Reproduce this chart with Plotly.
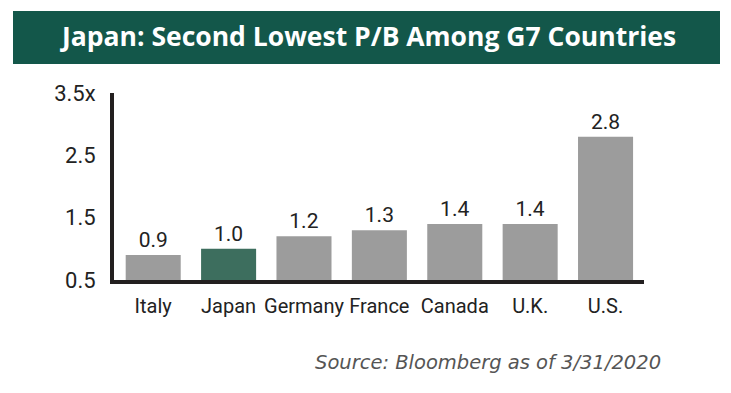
import plotly.graph_objects as go

countries = ["Italy", "Japan", "Germany", "France", "Canada", "U.K.", "U.S."]
pb_values = [0.9, 1.0, 1.2, 1.3, 1.4, 1.4, 2.8]
y_tick_vals = [0.5, 1.5, 2.5, 3.5]
y_tick_text = ["0.5", "1.5", "2.5", "3.5x"]
title_text = "Japan: Second Lowest P/B Among G7 Countries"
source_text = "Source: Bloomberg as of 3/31/2020"

GRAY = "#9c9c9c"
GREEN_BAR = "#3d6e5e"
BANNER = "#13574a"
AXIS = "#231f20"
COND = "Roboto, sans-serif"

colors = [GREEN_BAR if c == "Japan" else GRAY for c in countries]

fig = go.Figure(
    go.Bar(
        x=countries,
        y=pb_values,
        marker=dict(color=colors, line=dict(width=0)),
        texttemplate="%{y:.1f}",
        textposition="outside",
        textfont=dict(family=COND, size=21, color="#222222"),
        cliponaxis=False,
        hoverinfo="skip",
    )
)

fig.update_layout(
    width=731,
    height=393,
    margin=dict(l=114, r=87, t=93, b=113),
    paper_bgcolor="white",
    plot_bgcolor="white",
    bargap=0.27,
    showlegend=False,
    xaxis=dict(
        range=[-0.52, 6.51],
        showline=True,
        linecolor=AXIS,
        linewidth=4,
        showgrid=False,
        ticks="",
        tickangle=0,
        tickfont=dict(family=COND, size=20, color="#222222"),
        ticklabelstandoff=5,
    ),
    yaxis=dict(
        range=[0.5, 3.5],
        tickvals=y_tick_vals,
        ticktext=y_tick_text,
        showline=True,
        linecolor=AXIS,
        linewidth=4,
        showgrid=False,
        zeroline=False,
        ticks="",
        tickfont=dict(family=COND, size=22, color="#222222"),
        ticklabelstandoff=10,
    ),
    shapes=[
        dict(
            type="rect",
            xref="paper",
            yref="paper",
            x0=-101 / 530,
            x1=(720 - 114) / 530,
            y0=(393 - 113 - 64) / 187,
            y1=(393 - 113 - 11) / 187,
            fillcolor=BANNER,
            line=dict(width=0),
            layer="below",
        )
    ],
    annotations=[
        dict(
            text="<b>" + title_text + "</b>",
            xref="paper",
            yref="paper",
            x=(368 - 114) / 530,
            y=(393 - 113 - 36) / 187,
            xanchor="center",
            yanchor="middle",
            showarrow=False,
            font=dict(family="Open Sans, Lato, sans-serif", size=26.5, color="white"),
        ),
        dict(
            text="<i>" + source_text + "</i>",
            xref="paper",
            yref="paper",
            x=(663 - 114) / 530,
            y=(280 - 362) / 187,
            xanchor="right",
            yanchor="middle",
            showarrow=False,
            font=dict(family="DejaVu Sans, sans-serif", size=19.5, color="#555555"),
        ),
    ],
)

fig.write_html(
    "out.html",
    config={"displayModeBar": False},
    post_script="document.body.style.margin='0';",
)
